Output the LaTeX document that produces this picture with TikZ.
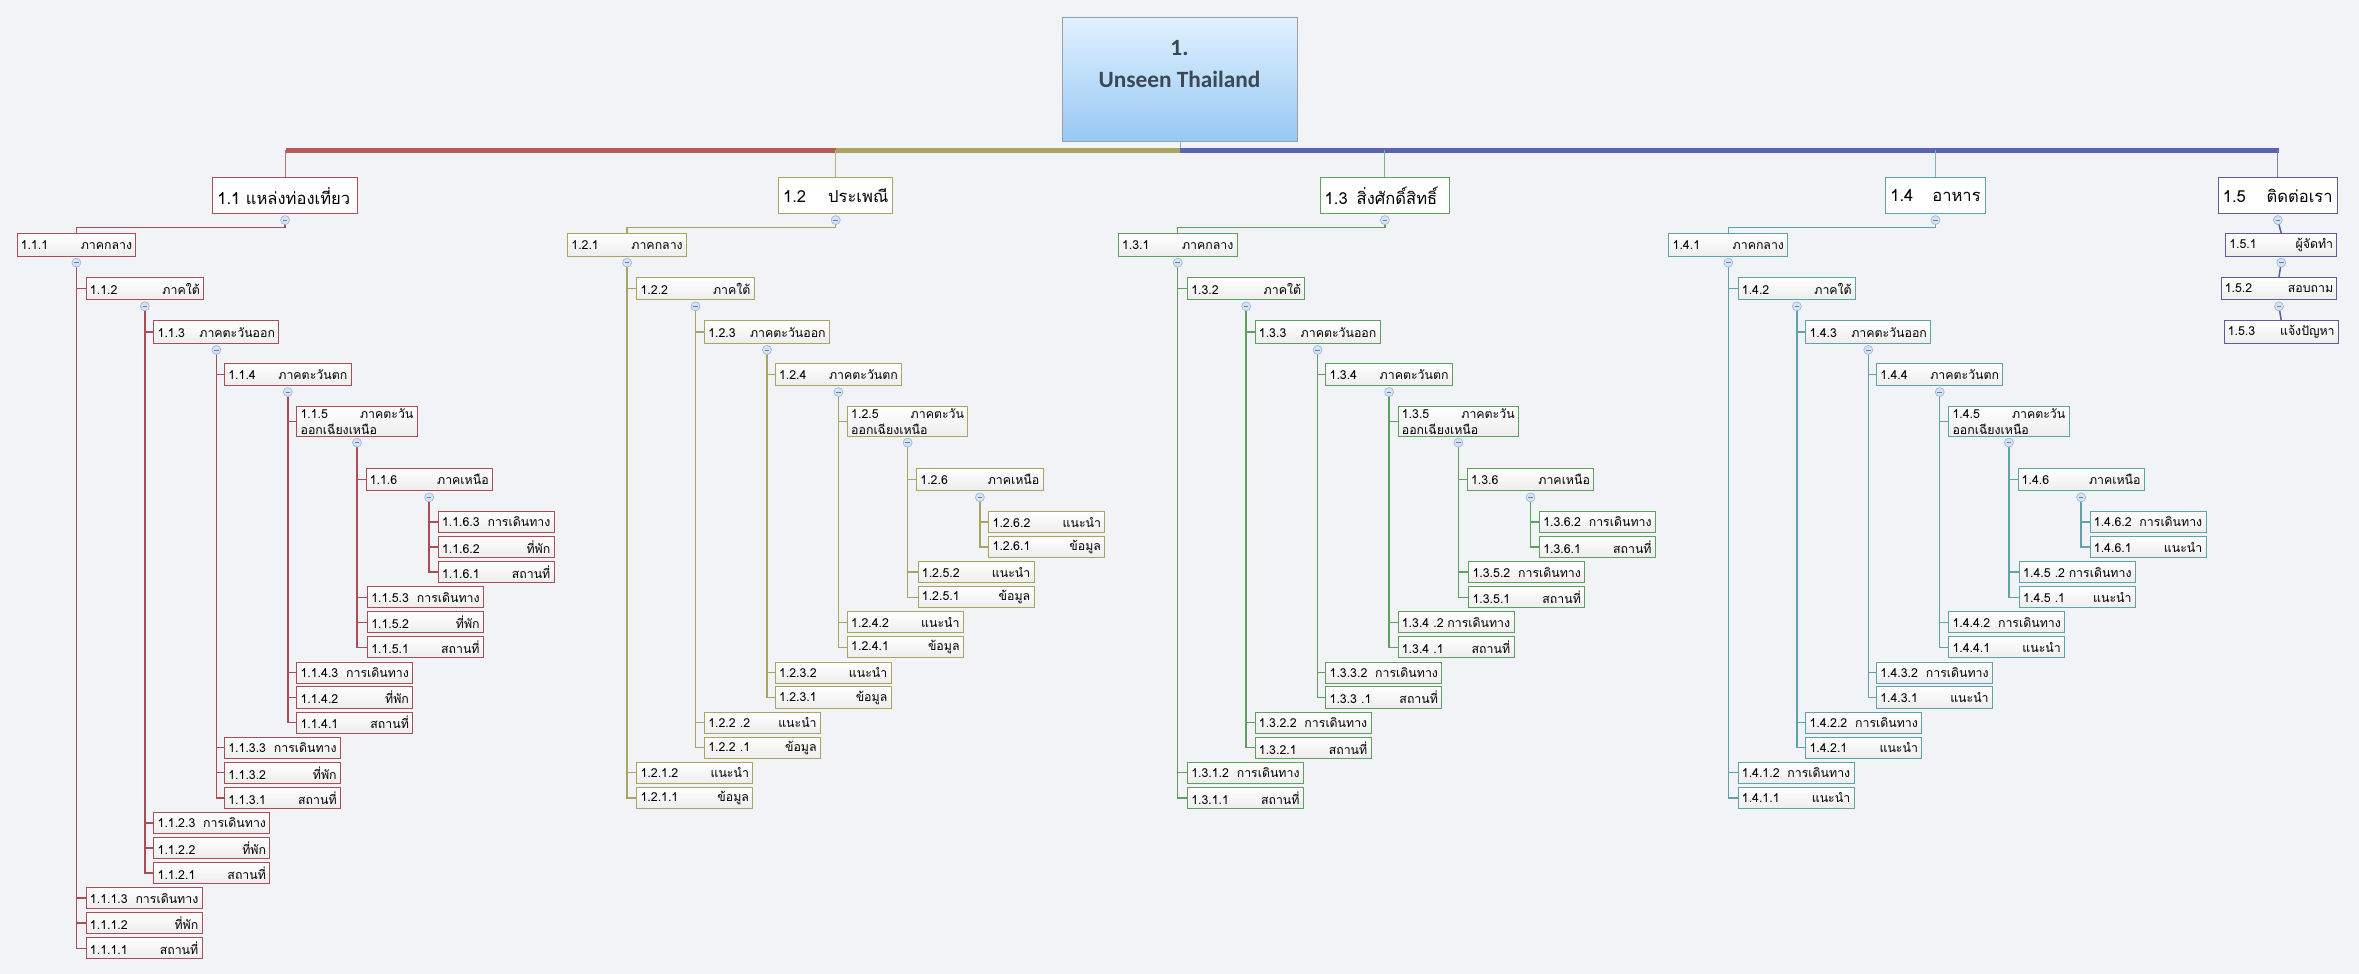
\documentclass[tikz,border=0pt]{standalone}
\usepackage{fontspec}
\setmainfont[Script=Thai]{Loma}
\newfontfamily\titlef{Carlito}
\definecolor{bgc}{HTML}{F2F3F7}
\definecolor{cA}{HTML}{A94E57}
\definecolor{cB}{HTML}{A9A462}
\definecolor{cC}{HTML}{5FA05F}
\definecolor{cD}{HTML}{5FA3A8}
\definecolor{cE}{HTML}{5A5F95}
\definecolor{barA}{HTML}{B45A5A}
\definecolor{barB}{HTML}{ABA35F}
\definecolor{barC}{HTML}{5B63AD}
\definecolor{circf}{HTML}{D4E3F5}
\definecolor{circd}{HTML}{9AB5D9}
\definecolor{rootT}{HTML}{E2F1FF}
\definecolor{rootB}{HTML}{96C8F4}
\definecolor{titc}{HTML}{3A4858}
\colorlet{cur}{cA}
\tikzset{
  boxbase/.style={draw=cur, line width=0.6pt, top color=white, bottom color=black!7, inner xsep=2.5pt, inner ysep=1pt, font=\fontsize{8.2}{10}\selectfont, align=left},
  leafbox/.style={boxbase, minimum height=14pt, text width=72pt},
  chainbox/.style={boxbase, anchor=north west, minimum height=15pt},
  topbox/.style={draw=cur, line width=0.6pt, fill=white, minimum height=24pt, inner xsep=3pt, font=\fontsize{11}{12}\selectfont, align=left},
  conn/.style={draw=cur, line width=1pt},
  circ/.style={circle, draw=circd, fill=circf, minimum size=6pt, inner sep=0pt, line width=0.4pt,
     path picture={\draw[circd!70!black, line width=0.4pt] ([xshift=1.5pt]path picture bounding box.west) -- ([xshift=-1.5pt]path picture bounding box.east);}},
}
\newcommand\mlf[6]{%
  \node[leafbox, anchor=west] (#1) at (#3,#4) {#5\hfill #6};
  \draw[conn] (#2) |- (#1.west);}
\newcommand\chainnodes[2]{%
  \node[chainbox, text width=74pt] (#1-1) at (11,155) {#2.1\hfill ภาคกลาง};
  \node[chainbox, text width=73pt] (#1-2) at (57,184) {#2.2\hfill ภาคใต้};
  \node[chainbox, text width=78pt] (#1-3) at (102,213) {#2.3\hfill ภาคตะวันออก};
  \node[chainbox, text width=79pt] (#1-4) at (149,241) {#2.4\hfill ภาคตะวันตก};
  \node[chainbox, text width=75pt, font=\fontsize{8.2}{11}\selectfont] (#1-5) at (197,270) {#2.5\hfill ภาคตะวัน\\ออกเฉียงเหนือ};
  \node[chainbox, text width=79pt] (#1-6) at (243,311) {#2.6\hfill ภาคเหนือ};
  \foreach \k in {1,...,6}{\coordinate (#1-\k c) at ([yshift=-4pt]#1-\k.south);}
  \draw[conn] (#1-1c) |- (#1-2.west);
  \draw[conn] (#1-2c) |- (#1-3.west);
  \draw[conn] (#1-3c) |- (#1-4.west);
  \draw[conn] (#1-4c) |- (#1-5.west);
  \draw[conn] (#1-5c) |- (#1-6.west);}
\newcommand\circs[1]{\foreach \k in {1,...,6}{\node[circ] (#1-\k o) at (#1-\k c) {};}}
\newcommand\twolf[9]{%
  \mlf{#1-#2-b}{#1-#2c}{#3}{#4}{#5}{#6}%
  \mlf{#1-#2-a}{#1-#2c}{#3}{#7}{#8}{#9}}
\begin{document}
\begin{tikzpicture}[x=1pt,y=-1pt]
\fill[bgc] (0,0) rectangle (1568,647.4);
\useasboundingbox (0,0) rectangle (1568,647.4);

\node[draw=gray!75, line width=0.6pt, top color=rootT, bottom color=rootB, minimum width=156pt, minimum height=83pt, anchor=north west] (root) at (706,11) {};
\node[font=\titlef\bfseries\fontsize{15.5}{21}\selectfont, text=titc, align=center] (rt) at (784,42.5) {1.\\Unseen Thailand};

\colorlet{cur}{cA}\node[topbox, text width=90pt] (t1) at (189.5,130) {\mbox{1.1 แหล่งท่องเที่ยว}};
\colorlet{cur}{cB}\node[topbox, text width=70pt] (t2) at (555.5,130) {1.2\hfill ประเพณี\hspace*{3pt}};
\colorlet{cur}{cC}\node[topbox, text width=80pt] (t3) at (920.5,130) {1.3\hspace{6pt}สิ่งศักดิ์สิทธิ์};
\colorlet{cur}{cD}\node[topbox, text width=60pt] (t4) at (1286.5,130) {1.4\hfill อาหาร\hspace*{3pt}};
\colorlet{cur}{cE}\node[topbox, text width=73pt] (t5) at (1514,130) {1.5\hfill ติดต่อเรา};

\coordinate (bA) at (190,100);
\coordinate (bB) at (555.5,100);
\coordinate (bC) at (1515,100);
\draw[gray!70, line width=0.6pt] (root.south) -- (root.south|-bA);
\draw[barA, line width=3pt] (bA) -- (bB);
\draw[barB, line width=3pt] (bB) -- (root.south|-bA);
\draw[barC, line width=3pt] (root.south|-bA) -- (bC);
\draw[cA!80, line width=0.6pt] (t1.north) -- (t1.north|-bA);
\draw[cB!80, line width=0.6pt] (t2.north) -- (t2.north|-bA);
\draw[cC!80, line width=0.6pt] (t3.north) -- (t3.north|-bA);
\draw[cD!80, line width=0.6pt] (t4.north) -- (t4.north|-bA);
\draw[cE!80, line width=0.6pt] (t5.north) -- (t5.north|-bA);
\foreach \t in {t1,t2,t3,t4,t5}{\coordinate (\t c) at ([yshift=-4pt]\t.south);}

\begin{scope}
\colorlet{cur}{cA}
\chainnodes{a}{1.1}
\draw[conn] (t1c) -- ++(0,5) -| (a-1.north);
\mlf{a-6-3}{a-6c}{291}{347}{1.1.6.3}{การเดินทาง}
\mlf{a-6-2}{a-6c}{291}{363.6}{1.1.6.2}{ที่พัก}
\mlf{a-6-1}{a-6c}{291}{380.3}{1.1.6.1}{สถานที่}
\mlf{a-5-3}{a-5c}{244}{397}{1.1.5.3}{การเดินทาง}
\mlf{a-5-2}{a-5c}{244}{413.6}{1.1.5.2}{ที่พัก}
\mlf{a-5-1}{a-5c}{244}{430.3}{1.1.5.1}{สถานที่}
\mlf{a-4-3}{a-4c}{197}{447}{1.1.4.3}{การเดินทาง}
\mlf{a-4-2}{a-4c}{197}{463.6}{1.1.4.2}{ที่พัก}
\mlf{a-4-1}{a-4c}{197}{480.3}{1.1.4.1}{สถานที่}
\mlf{a-3-3}{a-3c}{149}{497}{1.1.3.3}{การเดินทาง}
\mlf{a-3-2}{a-3c}{149}{513.6}{1.1.3.2}{ที่พัก}
\mlf{a-3-1}{a-3c}{149}{530.3}{1.1.3.1}{สถานที่}
\mlf{a-2-3}{a-2c}{102}{547}{1.1.2.3}{การเดินทาง}
\mlf{a-2-2}{a-2c}{102}{563.6}{1.1.2.2}{ที่พัก}
\mlf{a-2-1}{a-2c}{102}{580.3}{1.1.2.1}{สถานที่}
\mlf{a-1-3}{a-1c}{57}{597}{1.1.1.3}{การเดินทาง}
\mlf{a-1-2}{a-1c}{57}{613.6}{1.1.1.2}{ที่พัก}
\mlf{a-1-1}{a-1c}{57}{630.3}{1.1.1.1}{สถานที่}
\circs{a}
\end{scope}

\begin{scope}[xshift=366pt]
\colorlet{cur}{cB}
\chainnodes{b}{1.2}
\twolf{b}{6}{291}{347}{1.2.6.2}{แนะนำ}{363.6}{1.2.6.1}{ข้อมูล}
\twolf{b}{5}{244}{380.3}{1.2.5.2}{แนะนำ}{397}{1.2.5.1}{ข้อมูล}
\twolf{b}{4}{197}{413.6}{1.2.4.2}{แนะนำ}{430.3}{1.2.4.1}{ข้อมูล}
\twolf{b}{3}{149}{447}{1.2.3.2}{แนะนำ}{463.6}{1.2.3.1}{ข้อมูล}
\twolf{b}{2}{102}{480.3}{1.2.2 .2}{แนะนำ}{497}{1.2.2 .1}{ข้อมูล}
\twolf{b}{1}{57}{513.6}{1.2.1.2}{แนะนำ}{530.3}{1.2.1.1}{ข้อมูล}
\circs{b}
\end{scope}
\begin{scope}\colorlet{cur}{cB}\draw[conn] (t2c) -- ++(0,5) -| (b-1.north);\end{scope}

\begin{scope}[xshift=732pt]
\colorlet{cur}{cC}
\chainnodes{c}{1.3}
\twolf{c}{6}{291}{347}{1.3.6.2}{การเดินทาง}{363.6}{1.3.6.1}{สถานที่}
\twolf{c}{5}{244}{380.3}{1.3.5.2}{การเดินทาง}{397}{1.3.5.1}{สถานที่}
\twolf{c}{4}{197}{413.6}{1.3.4 .2}{การเดินทาง}{430.3}{1.3.4 .1}{สถานที่}
\twolf{c}{3}{149}{447}{1.3.3.2}{การเดินทาง}{463.6}{1.3.3 .1}{สถานที่}
\twolf{c}{2}{102}{480.3}{1.3.2.2}{การเดินทาง}{497}{1.3.2.1}{สถานที่}
\twolf{c}{1}{57}{513.6}{1.3.1.2}{การเดินทาง}{530.3}{1.3.1.1}{สถานที่}
\circs{c}
\end{scope}
\begin{scope}\colorlet{cur}{cC}\draw[conn] (t3c) -- ++(0,5) -| (c-1.north);\end{scope}

\begin{scope}[xshift=1098pt]
\colorlet{cur}{cD}
\chainnodes{d}{1.4}
\twolf{d}{6}{291}{347}{1.4.6.2}{การเดินทาง}{363.6}{1.4.6.1}{แนะนำ}
\twolf{d}{5}{244}{380.3}{1.4.5 .2}{การเดินทาง}{397}{1.4.5 .1}{แนะนำ}
\twolf{d}{4}{197}{413.6}{1.4.4.2}{การเดินทาง}{430.3}{1.4.4.1}{แนะนำ}
\twolf{d}{3}{149}{447}{1.4.3.2}{การเดินทาง}{463.6}{1.4.3.1}{แนะนำ}
\twolf{d}{2}{102}{480.3}{1.4.2.2}{การเดินทาง}{497}{1.4.2.1}{แนะนำ}
\twolf{d}{1}{57}{513.6}{1.4.1.2}{การเดินทาง}{530.3}{1.4.1.1}{แนะนำ}
\circs{d}
\end{scope}
\begin{scope}\colorlet{cur}{cD}\draw[conn] (t4c) -- ++(0,5) -| (d-1.north);\end{scope}

\begin{scope}
\colorlet{cur}{cE}
\node[chainbox, text width=69pt] (e-1) at (1479,155) {1.5.1\hfill ผู้จัดทำ};
\node[chainbox, text width=72pt] (e-2) at (1476,184) {1.5.2\hfill สอบถาม};
\node[chainbox, text width=71pt] (e-3) at (1478,213) {1.5.3\hfill แจ้งปัญหา};
\coordinate (e-1c) at ([yshift=-4pt]e-1.south);
\coordinate (e-2c) at ([yshift=-4pt]e-2.south);
\draw[conn] (t5c) -- (e-1.north);
\draw[conn] (e-1c) -- (e-2.north);
\draw[conn] (e-2c) -- (e-3.north);
\node[circ] (e-1o) at (e-1c) {};
\node[circ] (e-2o) at (e-2c) {};
\end{scope}
\foreach \t in {t1,t2,t3,t4,t5}{\node[circ] (\t o) at (\t c) {};}
\end{tikzpicture}
\end{document}
